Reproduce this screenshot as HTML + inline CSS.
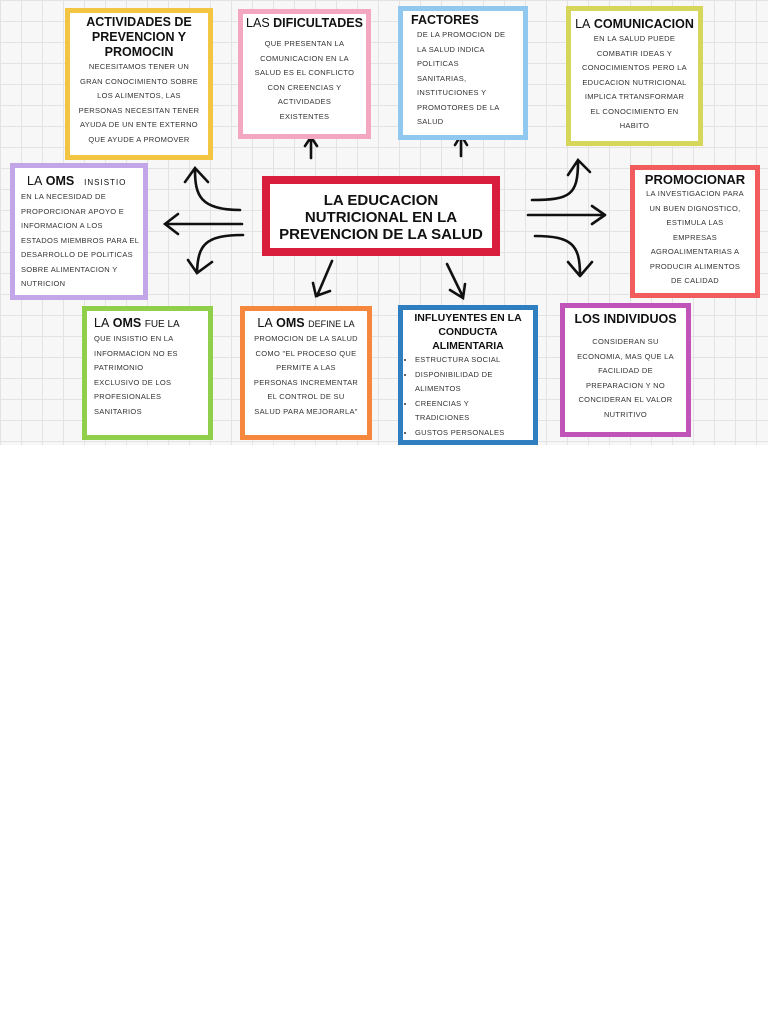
<!DOCTYPE html>
<html><head><meta charset="utf-8"><style>
body{margin:0;width:768px;height:1024px;background:#fff;position:relative;overflow:hidden;font-family:"Liberation Sans",sans-serif}
#bg{position:absolute;left:0;top:0;width:768px;height:445px;background-color:#f7f7f7;
background-image:linear-gradient(#e3e3e3 1px,transparent 1px),linear-gradient(90deg,#e3e3e3 1px,transparent 1px);background-size:21px 21px}
.b{position:absolute;box-sizing:border-box;background:#fff;border:5px solid;text-align:center;color:#333;font-size:7.5px;line-height:14.5px;text-transform:uppercase;letter-spacing:.3px}
.t{font-weight:bold;color:#111;font-size:12.5px;line-height:15px;letter-spacing:0}
.l{text-align:left}
ul{margin:0;padding-left:12px;text-align:left}
</style></head><body>
<div id="bg"></div>
<svg width="768" height="445" style="position:absolute;left:0;top:0" fill="none" stroke="#111" stroke-width="2.6" stroke-linecap="round">
<path d="M240 210 C200 210 195 195 195 170 M185 182 L195 168 L208 182"/>
<path d="M242 224 L165 224 M178 214 L165 224 L178 234"/>
<path d="M243 235 C205 235 198 245 197 272 M188 260 L197 273 L212 262"/>
<path d="M311 158 L311 137 M305 146 L311 137 L317 146"/>
<path d="M461 156 L461 135 M455 145 L461 135 L467 145"/>
<path d="M532 200 C570 200 578 195 578 162 M568 175 L578 160 L590 172"/>
<path d="M528 215 L605 215 M592 206 L605 215 M592 224 L605 215"/>
<path d="M535 236 C572 236 580 245 580 275 M568 262 L580 276 M592 262 L580 276"/>
<path d="M332 261 L317 296 M313 283 L316 296 L330 291"/>
<path d="M447 264 L463 297 M450 290 L463 298 L465 284"/>
</svg>

<div class="b" style="left:65px;top:8px;width:148px;height:152px;border-color:#f4c542;padding-top:2px"><div class="t">ACTIVIDADES DE<br>PREVENCION Y<br>PROMOCIN</div>NECESITAMOS TENER UN<br>GRAN CONOCIMIENTO SOBRE<br>LOS ALIMENTOS, LAS<br>PERSONAS NECESITAN TENER<br>AYUDA DE UN ENTE EXTERNO<br>QUE AYUDE A PROMOVER</div>

<div class="b" style="left:238px;top:9px;width:133px;height:130px;border-color:#f4a7c0;padding-top:2px"><div class="t" style="margin-bottom:6px"><span style="font-weight:normal">LAS</span> DIFICULTADES</div>QUE PRESENTAN LA<br>COMUNICACION EN LA<br>SALUD ES EL CONFLICTO<br>CON CREENCIAS Y<br>ACTIVIDADES<br>EXISTENTES</div>

<div class="b l" style="left:398px;top:6px;width:130px;height:134px;border-color:#90c8f0;padding:2px 0 0 8px"><div class="t">FACTORES</div><div style="padding-left:6px">DE LA PROMOCION DE<br>LA SALUD INDICA<br>POLITICAS<br>SANITARIAS,<br>INSTITUCIONES Y<br>PROMOTORES DE LA<br>SALUD</div></div>

<div class="b" style="left:566px;top:6px;width:137px;height:140px;border-color:#d6d65a;padding-top:6px"><div class="t"><span style="font-weight:normal">LA</span> COMUNICACION</div>EN LA SALUD PUEDE<br>COMBATIR IDEAS Y<br>CONOCIMIENTOS PERO LA<br>EDUCACION NUTRICIONAL<br>IMPLICA TRTANSFORMAR<br>EL CONOCIMIENTO EN<br>HABITO</div>

<div class="b l" style="left:10px;top:163px;width:138px;height:137px;border-color:#c3a6e8;padding:6px 0 0 6px"><div class="t" style="padding-left:6px"><span style="font-weight:normal">LA</span> OMS <span style="font-weight:normal;font-size:8px;letter-spacing:1px">&nbsp;&nbsp;INSISTIO</span></div>EN LA NECESIDAD DE<br>PROPORCIONAR APOYO E<br>INFORMACION A LOS<br>ESTADOS MIEMBROS PARA EL<br>DESARROLLO DE POLITICAS<br>SOBRE ALIMENTACION Y<br>NUTRICION</div>

<div class="b" style="left:262px;top:176px;width:238px;height:80px;border:8px solid #d81e3c;padding-top:8px"><div class="t" style="font-size:15px;line-height:17px">LA EDUCACION<br>NUTRICIONAL EN LA<br>PREVENCION DE LA SALUD</div></div>

<div class="b" style="left:630px;top:165px;width:130px;height:133px;border-color:#f25c5c;padding-top:2px"><div class="t" style="font-size:13px">PROMOCIONAR</div>LA INVESTIGACION PARA<br>UN BUEN DIGNOSTICO,<br>ESTIMULA LAS<br>EMPRESAS<br>AGROALIMENTARIAS A<br>PRODUCIR ALIMENTOS<br>DE CALIDAD</div>

<div class="b l" style="left:82px;top:306px;width:131px;height:134px;border-color:#8fcf4a;padding:5px 0 0 7px"><div class="t"><span style="font-weight:normal">LA</span> OMS <span style="font-weight:normal;font-size:10px">FUE LA</span></div>QUE INSISTIO EN LA<br>INFORMACION NO ES<br>PATRIMONIO<br>EXCLUSIVO DE LOS<br>PROFESIONALES<br>SANITARIOS</div>

<div class="b" style="left:240px;top:306px;width:132px;height:134px;border-color:#f5883c;padding-top:5px"><div class="t"><span style="font-weight:normal">LA</span> OMS <span style="font-weight:normal;font-size:9px">DEFINE LA</span></div>PROMOCION DE LA SALUD<br>COMO "EL PROCESO QUE<br>PERMITE A LAS<br>PERSONAS INCREMENTAR<br>EL CONTROL DE SU<br>SALUD PARA MEJORARLA"</div>

<div class="b" style="left:398px;top:305px;width:140px;height:140px;border-color:#2f7fc0;padding-top:1px"><div class="t" style="font-size:10.5px;line-height:14px">INFLUYENTES EN LA<br>CONDUCTA<br>ALIMENTARIA</div><ul><li>ESTRUCTURA SOCIAL</li><li>DISPONIBILIDAD DE<br>ALIMENTOS</li><li>CREENCIAS Y<br>TRADICIONES</li><li>GUSTOS PERSONALES</li></ul></div>

<div class="b" style="left:560px;top:303px;width:131px;height:134px;border-color:#c054b8;padding-top:4px"><div class="t" style="margin-bottom:8px">LOS INDIVIDUOS</div>CONSIDERAN SU<br>ECONOMIA, MAS QUE LA<br>FACILIDAD DE<br>PREPARACION Y NO<br>CONCIDERAN EL VALOR<br>NUTRITIVO</div>
</body></html>
